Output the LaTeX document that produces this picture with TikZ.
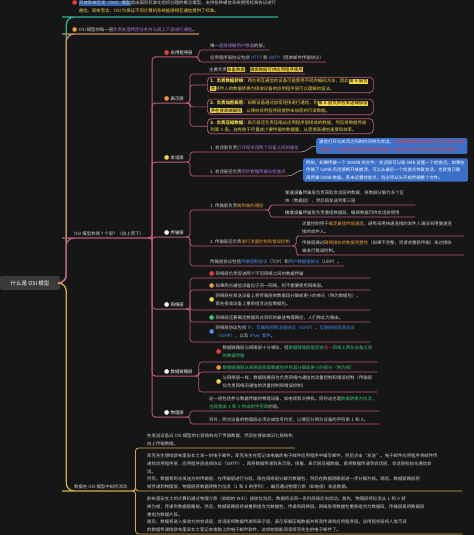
\documentclass[tikz,border=0pt]{standalone}
\usepackage{fontspec}
\setmainfont{Noto Sans CJK SC}
\newfontfamily\symf{DejaVu Sans}
\usetikzlibrary{calc,positioning}

\definecolor{bgc}{HTML}{161616}
\definecolor{txt}{HTML}{D2D2D2}
\definecolor{pk}{HTML}{B85A7C}
\definecolor{tlc}{HTML}{2FB39B}
\definecolor{ogc}{HTML}{C8905A}
\definecolor{gdc}{HTML}{D4AE48}
\definecolor{hlbc}{HTML}{2E5FA8}
\definecolor{lk}{HTML}{4D8EE8}
\definecolor{yl}{HTML}{F2D548}
\definecolor{pp}{HTML}{A77BDD}
\definecolor{orr}{HTML}{E89A3C}
\definecolor{gn}{HTML}{3CC47C}
\definecolor{rd}{HTML}{E2423C}
\definecolor{boxb}{HTML}{3C6FC8}
\definecolor{rootc}{HTML}{3A3A3A}

\newcommand\fs{\fontsize{4.4}{7.6}\selectfont}
\newcommand\icn[1]{{\symf\fontsize{6}{6}\selectfont\textcolor{#1}{●}}\hspace{1.2pt}}
\newcommand\hlb[1]{{\setlength{\fboxsep}{0.5pt}\colorbox{hlbc}{#1}}}
\newcommand\hly[1]{{\setlength{\fboxsep}{0.4pt}\colorbox{yl}{\textcolor{black}{#1}}}}
\newcommand\topl[1]{\begin{tabular}[t]{@{}l@{}}#1\end{tabular}}
\newcommand\midl[1]{\begin{tabular}[c]{@{}l@{}}#1\end{tabular}}

\tikzset{
    leaf/.style={anchor=south west, align=left, inner xsep=2pt, inner ysep=2pt, text=txt, font=\fs},
    layer/.style={leaf, text=white},
    card/.style={leaf, draw=pk, line width=0.7pt, rounded corners=4pt, text=yl, text width=160pt, inner xsep=3pt, inner ysep=1.5pt},
    sbox/.style={anchor=west, align=left, fill=boxb, rounded corners=1.5pt, inner xsep=3pt, inner ysep=2pt, text=white, font=\fs},
    rootbox/.style={fill=rootc, rounded corners=2pt, text=white, minimum width=60pt, minimum height=14pt, font=\fontsize{5.5}{6}\selectfont},
    pkl/.style={draw=pk, line width=0.7pt, rounded corners=3pt},
    pkm/.style={draw=pk, line width=1.3pt, rounded corners=8pt},
    tlm/.style={draw=tlc, line width=1.3pt, rounded corners=8pt},
    ogm/.style={draw=ogc, line width=1.3pt, rounded corners=8pt},
    gdm/.style={draw=gdc, line width=1.3pt, rounded corners=8pt},
    gdl/.style={draw=gdc, line width=0.8pt, rounded corners=3pt},
    brk/.style={draw=txt!80!black, line width=0.6pt},
}

\begin{document}
\begin{tikzpicture}[x=1pt, y=-1pt]
    \useasboundingbox (0,0) rectangle (474,535);
    \fill[bgc] (0,0) rectangle (474,535);

    % root and first level
        \node[rootbox] (osi) at (30,283) {什么是 OSI 模型};
        \node[leaf] (intro) at (70,17) {\icn{rd}\topl{\hlb{开放系统互连（OSI）模型}是由国际标准化组织创建的概念模型，支持各种通信系统使用标准协议进行\\\textcolor{yl}{通信。简单而言，OSI 为保证不同计算机系统能够相互通信提供了标准。}}};
        \node[leaf] (each) at (70,34) {\icn{orr}OSI 模型的每一层\textcolor{pp}{负责处理特定任务并与其上下层进行通信}。};
        \node[leaf, inner xsep=4pt] (layers) at (70,238) {OSI 模型有哪 7 个层？（自上而下）};
        \node[leaf, inner xsep=4pt] (flow) at (70,491) {数据在 OSI 模型中如何流动};

        \draw[tlm] (osi.east) -- ++(6,0) |- (intro.south west) -- (intro.south east);
        \draw[ogm] (osi.east) -- ++(6,0) |- (each.south west) -- (each.south east);
        \draw[pkm] (osi.east) -- ++(6,0) |- (layers.south west) -- (layers.south east);
        \draw[gdm] (osi.east) -- ++(6,0) |- (flow.south west) -- (flow.south east);

    % the seven layers
        \node[layer] (app) at (162,57) {\icn{rd}应用程序层};
        \node[layer] (pre) at (162,103) {\icn{orr}表示层};
        \node[layer] (ses) at (162,162) {\icn{yl}会话层};
        \node[layer] (tra) at (162,237) {\icn{white}传输层};
        \node[layer] (net) at (162,309) {\icn{white}网络层};
        \node[layer] (dll) at (162,376) {\icn{white}数据链路层};
        \node[layer] (phy) at (162,417) {\icn{white}物理层};

        \draw[pkl, line width=1pt] (layers.south east) -- ++(4,0) |- (app.south west) -- (app.south east);
        \draw[pkl, line width=1pt] (layers.south east) -- ++(4,0) |- (pre.south west) -- (pre.south east);
        \draw[pkl, line width=1pt] (layers.south east) -- ++(4,0) |- (ses.south west) -- (ses.south east);
        \draw[pkl, line width=1pt] (layers.south east) -- ++(4,0) |- (tra.south west) -- (tra.south east);
        \draw[pkl, line width=1pt] (layers.south east) -- ++(4,0) |- (net.south west) -- (net.south east);
        \draw[pkl, line width=1pt] (layers.south east) -- ++(4,0) |- (dll.south west) -- (dll.south east);
        \draw[pkl, line width=1pt] (layers.south east) -- ++(4,0) |- (phy.south west) -- (phy.south east);

    % application layer
        \node[leaf] (app1) at (208,50) {唯一\textcolor{pp}{直接接触用户数据}的层。};
        \node[leaf] (app2) at (208,62) {应用程序层协议包括 \textcolor{lk}{HTTP} 和 \textcolor{lk}{SMTP}（简单邮件传输协议）};
        \draw[pkl] (app.south east) -- ++(4,0) |- (app1.south west) -- (app1.south east);
        \draw[pkl] (app.south east) -- ++(4,0) |- (app2.south west) -- (app2.south east);

    % presentation layer
        \node[leaf] (pre0) at (207,74) {主要负责\hly{准备数据}，\hly{确保数据可供应用程序使用}};
        \node[card] (pre1) at (207,93) {\textbf{1. 负责数据转换：}两台相互通信的设备可能使用不同的编码方法，因此\hly{第 6 层负}\\\hly{责}将传入的数据转换为接收设备的应用程序层可以理解的语法。};
        \node[card] (pre2) at (207,115) {\textbf{2. 负责加密解密：}如果设备通过加密连接进行通信，则\hly{第 6 层负责在发送端加密}\\\hly{并在接收端解密}，以便向应用程序层提供未加密的可读数据。};
        \node[card] (pre3) at (207,134) {\textbf{3. 负责压缩数据：}表示层还负责压缩从应用程序层接收的数据，然后将数据传递\\到第 5 层。这有助于尽量减少要传输的数据量，从而提高通信速度和效率。};
        \draw[pkl] (pre.south east) -- ++(4,0) |- (pre0.south west) -- (pre0.south east);
        \draw[pkl] (pre.south east) -- ++(4,0) |- (pre1.west);
        \draw[pkl] (pre.south east) -- ++(4,0) |- (pre2.west);
        \draw[pkl] (pre.south east) -- ++(4,0) |- (pre3.west);

    % session layer
        \node[leaf] (ses1) at (208,152) {1. 会话层负责\textcolor{pp}{打开和关闭两个设备之间的通信}};
        \node[leaf] (ses2) at (208,176) {2. 会话层还负责\textcolor{pp}{同步数据传输与检查点}};
        \node[sbox] (sb1) at (316,146) {通信打开与关闭之间的时间称为会话。\textcolor{rd}{会话层确保会话保持打开状态的时间}\\\textcolor{rd}{足够长，以传输正在交换的所有数据，然后立即关闭会话以免浪费资源。}};
        \node[sbox] (sb2) at (303,170) {例如，如果传输一个 100MB 的文件，会话层可以每 5MB 设置一个检查点。如果在\\传输了 52MB 后连接断开或崩溃，可以从最后一个检查点恢复会话，也就是只需\\再传输 50MB 数据。若未设置检查点，则必须从头开始传输整个文件。};
        \draw[pkl] (ses.south east) -- ++(4,0) |- (ses1.south west) -- (ses1.south east);
        \draw[pkl] (ses.south east) -- ++(4,0) |- (ses2.south west) -- (ses2.south east);
        \draw[brk] (ses1.south east) to[out=0, in=180] (sb1.west);
        \draw[brk] (ses2.south east) to[out=0, in=180] (sb2.west);

    % transport layer
        \node[leaf] (tra1) at (208,210) {1. 传输层负责\textcolor{orr}{端到端的通信}};
        \node[leaf] (tra2) at (208,246) {2. 传输层还负责\textcolor{orr}{进行流量控制和错误控制}};
        \node[leaf] (tra3) at (208,266) {传输层协议包括\textcolor{lk}{传输控制协议}（TCP）和\textcolor{lk}{用户数据报协议}（UDP）。};
        \node[leaf, text width=128pt] (tra1a) at (283,205) {\textcolor{white}{发送设备}传输层负责获取会话层的数据，将数据分解为多个区\\块（数据段），然后再发送到第三层};
        \node[leaf, text width=128pt] (tra1b) at (283,217) {\textcolor{white}{接收设备}传输层负责重组数据段，确保数据可供会话层使用};
        \node[leaf, text width=160pt] (tra2a) at (300,236) {流量控制用于\textcolor{orr}{确定最佳传输速度}，避免采用快速连接的发件人淹没采用慢速连\\接的收件人。};
        \node[leaf, text width=160pt] (tra2b) at (300,255) {传输层通过\textcolor{orr}{确保接收的数据完整性}（如果不完整，则请求重新传输）来对接收\\端进行错误控制。};
        \draw[pkl] (tra.south east) -- ++(4,0) |- (tra1.south west) -- (tra1.south east);
        \draw[pkl] (tra.south east) -- ++(4,0) |- (tra2.south west) -- (tra2.south east);
        \draw[pkl] (tra.south east) -- ++(4,0) |- (tra3.south west) -- (tra3.south east);
        \draw[pkl] (tra1.south east) -- ++(4,0) |- (tra1a.south west) -- (tra1a.south east);
        \draw[pkl] (tra1.south east) -- ++(4,0) |- (tra1b.south west) -- (tra1b.south east);
        \draw[pkl] (tra2.south east) -- ++(4,0) |- (tra2a.south west) -- (tra2a.south east);
        \draw[pkl] (tra2.south east) -- ++(4,0) |- (tra2b.south west) -- (tra2b.south east);

    % network layer
        \node[leaf, text width=159pt] (net1) at (207,278) {\icn{rd}网络层负责促进两个不同网络之间的数据传输};
        \node[leaf, text width=159pt] (net2) at (207,290) {\icn{orr}如果两台通信设备位于同一网络，则不需要使用网络层。};
        \node[leaf, text width=159pt] (net3) at (207,310) {\icn{yl}\midl{网络层在发送设备上将传输层的数据段分解成更小的单元（称为数据包），\\再在接收设备上重新组合这些数据包。}};
        \node[leaf, text width=159pt] (net4) at (207,322) {\icn{gn}网络层还要确定数据到达目标的最佳物理路径，人们称此为路由。};
        \node[leaf, text width=159pt] (net5) at (207,342) {\icn{lk}\midl{网络层协议包括 \textcolor{lk}{IP}、\textcolor{lk}{互联网控制消息协议（ICMP）}、\textcolor{lk}{互联网组消息协议}\\\textcolor{lk}{（IGMP）}，以及 \textcolor{lk}{IPsec 套件}。}};
        \draw[pkl] (net.south east) -- ++(4,0) |- (net1.south west) -- (net1.south east);
        \draw[pkl] (net.south east) -- ++(4,0) |- (net2.south west) -- (net2.south east);
        \draw[pkl] (net.south east) -- ++(4,0) |- (net3.south west) -- (net3.south east);
        \draw[pkl] (net.south east) -- ++(4,0) |- (net4.south west) -- (net4.south east);
        \draw[pkl] (net.south east) -- ++(4,0) |- (net5.south west) -- (net5.south east);

    % data link layer
        \node[leaf, text width=159pt] (dll1) at (214,362) {\icn{rd}\midl{数据链路层与网络层十分相似，但\textcolor{gn}{数据链路层是促进}\textcolor{rd}{同一}\textcolor{gn}{网络上两台设备之间}\\\textcolor{gn}{的数据传输}}};
        \node[leaf, text width=159pt] (dll2) at (214,372) {\icn{orr}\textcolor{gn}{数据链路层从网络层获取数据包并将其分解成更小的部分（称为帧）}};
        \node[leaf, text width=159pt] (dll3) at (214,392) {\icn{yl}\midl{与网络层一样，数据链路层也负责网络内通信的流量控制和错误控制（传输层\\仅负责网络间通信的流量控制和错误控制）}};
        \draw[pkl] (dll.south east) -- ++(4,0) |- (dll1.south west) -- (dll1.south east);
        \draw[pkl] (dll.south east) -- ++(4,0) |- (dll2.south west) -- (dll2.south east);
        \draw[pkl] (dll.south east) -- ++(4,0) |- (dll3.south west) -- (dll3.south east);

    % physical layer
        \node[leaf, text width=168pt] (phy1) at (207,411) {这一层包括参与数据传输的物理设备，如电缆和交换机。同时这也是\textcolor{gn}{数据转换为位流，}\\\textcolor{gn}{也就是由 1 和 0 构成的字符串}的层。};
        \node[leaf, text width=168pt] (phy2) at (207,424) {另外，两台设备的物理层必须达成信号约定，以便区分两台设备的字符串 1 和 0。};
        \draw[pkl] (phy.south east) -- ++(4,0) |- (phy1.south west) -- (phy1.south east);
        \draw[pkl] (phy.south east) -- ++(4,0) |- (phy2.south west) -- (phy2.south east);

    % how data flows
        \node[leaf] (flow1) at (145,448) {在发送设备沿 OSI 模型的七层结构向下传输数据，然后在接收端沿七层结构\\向上传输数据。};
        \node[leaf, text width=313pt] (flow2) at (145,491) {库克先生想给欧布里安女士发一封电子邮件。库克先生在笔记本电脑的电子邮件应用程序中编写邮件，然后点击“发送”。电子邮件应用程序将邮件传\\递给应用程序层，应用程序层选择协议（SMTP），再将数据传递到表示层。接着，表示层压缩数据，再将数据传递到会话层，会话层初始化通信会\\话。\\然后，数据将到达发送方的传输层，在传输层进行分段，再在网络层分解为数据包，然后在数据链路层进一步分解为帧。随后，数据链路层将\\帧传递到物理层，物理层将数据转换为位流（1 和 0 的序列），最后通过物理介质（如电缆）发送数据。};
        \node[leaf, text width=313pt] (flow3) at (145,534) {欧布里安女士的计算机通过物理介质（如她的 WiFi）接收位流后，数据将沿同一系列层级反向流动。首先，物理层将位流从 1 和 0 转\\换为帧，传递到数据链路层。然后，数据链路层将帧重新组合为数据包，传递到网络层。网络层将数据包重新组合为数据段，传输层再将数据段\\重组为数据片段。\\随后，数据将进入接收方的会话层，会话层将数据传递到表示层，表示层解压缩数据并将其传递到应用程序层。应用程序层将人类可读\\的数据传递给欧布里安女士笔记本电脑上的电子邮件软件，这样她就能阅读库克先生的电子邮件了。};
        \draw[gdl] (flow.south east) -- ++(4,0) |- (flow1.south west) -- (flow1.south east);
        \draw[gdl] (flow.south east) -- ++(4,0) |- (flow2.south west) -- (flow2.south east);
        \draw[gdl] (flow.south east) -- ++(4,0) |- (flow3.south west) -- (flow3.south east);

\end{tikzpicture}
\end{document}
